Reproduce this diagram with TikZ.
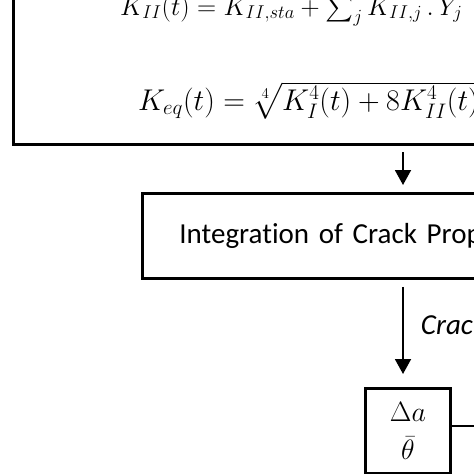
\RequirePackage{fix-cm}
\documentclass[tikz,border=0pt]{standalone}
\usepackage{amsmath,amssymb}
\usepackage{fontspec}
\setmainfont{Carlito}[Ligatures=NoCommon]
\usetikzlibrary{arrows.meta,positioning}

\begin{document}
\begin{tikzpicture}[x=1pt,y=-1pt,
  box/.style={draw,line width=2.8pt},
  flow/.style={-{Triangle[length=15pt,width=16pt]},line width=1.9pt},
  eq/.style={anchor=base west,inner sep=0pt}]
\useasboundingbox (0,0) rectangle (474,474);
\clip (0,0) rectangle (474,474);
\node[box,minimum width=782pt,minimum height=300pt,anchor=south west] (sif) at (12,146) {};
\node[eq,font=\fontsize{26.5}{32}\selectfont] (kii) at (120,15) {$K_{II}(t)=K_{II,sta}+\sum_j K_{II,j}\,.\,Y_j$};
\node[eq,font=\fontsize{30}{36}\selectfont] (keq) at (138,110) {$K_{eq}(t)=\sqrt[4]{K_I^4(t)+8K_{II}^4(t)}$};
\node[box,anchor=north west,minimum height=85pt,text width=470pt,inner xsep=37pt,align=left,
  font=\fontsize{29}{35}\selectfont] (integ) at (141,192) {Integration of Crack Propagation};
\node[box,anchor=north west,minimum width=85pt,minimum height=85pt,align=center,
  font=\fontsize{28}{38}\selectfont] (dtheta) at (364,387) {$\Delta a$\\$\bar{\theta}$};
\coordinate (ax) at (403,0);
\coordinate (out) at (500,426);
\draw[flow] (sif.south -| ax) ++(0,6) -- ([yshift=7pt]integ.north -| ax);
\draw[flow] (integ.south -| ax) ++(0,7) -- node[pos=0.5,anchor=base west,inner sep=0pt,xshift=17pt,yshift=-4pt,
  font=\itshape\fontsize{29}{35}\selectfont] (crk) {Crack} ([yshift=13pt]dtheta.north -| ax);
\draw[line width=1.9pt] (dtheta.east |- out) -- (out);
\end{tikzpicture}
\end{document}
